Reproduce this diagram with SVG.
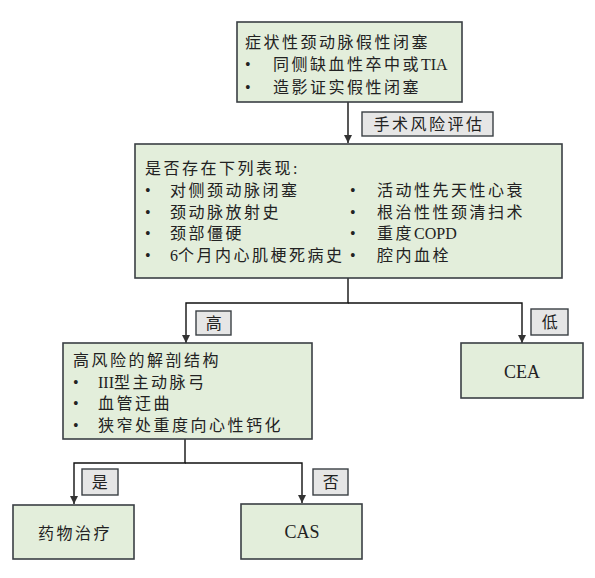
<svg xmlns="http://www.w3.org/2000/svg" width="595" height="578" viewBox="0 0 595 578">
<style>
.node{fill:#e3eedb;stroke:#3a3f44;stroke-width:1.6}
.lab{fill:#e6e6e6;stroke:#3a3f44;stroke-width:1.4}
text{font-family:"Liberation Serif","Noto Sans CJK SC",serif;font-size:16px;fill:#222;letter-spacing:2.5px}
.lat{letter-spacing:0}
.big{font-size:18px;letter-spacing:0}
.c{text-anchor:middle}
.con{fill:none;stroke:#111;stroke-width:1.4}
</style>
<defs>
<marker id="ah" markerUnits="userSpaceOnUse" markerWidth="8" markerHeight="8" refX="8" refY="4" orient="auto">
<path d="M0,0 L8,4 L0,8 z" fill="#333"/>
</marker>
</defs>
<rect width="595" height="578" fill="#fff"/>
<g id="connectors">
<path class="con" d="M348,102 V143" marker-end="url(#ah)"/>
<path class="con" d="M348,278 V303 H186 V343" marker-end="url(#ah)"/>
<path class="con" d="M348,303 H522 V343" marker-end="url(#ah)"/>
<path class="con" d="M185,439 V463 H74 V504" marker-end="url(#ah)"/>
<path class="con" d="M185,463 H302 V503" marker-end="url(#ah)"/>
</g>
<g id="n1">
<rect class="node" x="237" y="22" width="225" height="80"/>
<text x="245" y="48">症状性颈动脉假性闭塞</text>
<text x="245" y="70">•</text><text x="273" y="70">同侧缺血性卒中或<tspan class="lat">TIA</tspan></text>
<text x="245" y="93">•</text><text x="273" y="93">造影证实假性闭塞</text>
</g>
<g id="l1">
<rect class="lab" x="362" y="112" width="131" height="24"/>
<text class="c" x="429" y="130">手术风险评估</text>
</g>
<g id="n2">
<rect class="node" x="135" y="144" width="427" height="134"/>
<text x="145" y="174">是否存在下列表现:</text>
<text x="145" y="196">•</text><text x="170" y="196">对侧颈动脉闭塞</text>
<text x="145" y="218">•</text><text x="170" y="218">颈动脉放射史</text>
<text x="145" y="239">•</text><text x="170" y="239">颈部僵硬</text>
<text x="145" y="261">•</text><text x="170" y="261"><tspan class="lat">6</tspan>个月内心肌梗死病史</text>
<text x="350" y="196">•</text><text x="377" y="196">活动性先天性心衰</text>
<text x="350" y="218">•</text><text x="377" y="218">根治性性颈清扫术</text>
<text x="350" y="239">•</text><text x="377" y="239">重度<tspan class="lat">COPD</tspan></text>
<text x="350" y="261">•</text><text x="377" y="261">腔内血栓</text>
</g>
<g id="l2">
<rect class="lab" x="196" y="311" width="35" height="24"/>
<text class="c" x="215" y="329">高</text>
</g>
<g id="l3">
<rect class="lab" x="531" y="309" width="37" height="26"/>
<text class="c" x="551" y="328">低</text>
</g>
<g id="n3">
<rect class="node" x="63" y="343" width="249" height="96"/>
<text x="73" y="366">高风险的解剖结构</text>
<text x="73" y="388">•</text><text x="98" y="388"><tspan class="lat">III</tspan>型主动脉弓</text>
<text x="73" y="409">•</text><text x="98" y="409">血管迂曲</text>
<text x="73" y="431">•</text><text x="98" y="431">狭窄处重度向心性钙化</text>
</g>
<g id="n4">
<rect class="node" x="461" y="343" width="122" height="55"/>
<text class="c big" x="522" y="378">CEA</text>
</g>
<g id="l4">
<rect class="lab" x="82" y="469" width="36" height="26"/>
<text class="c" x="101" y="488">是</text>
</g>
<g id="l5">
<rect class="lab" x="313" y="469" width="35" height="26"/>
<text class="c" x="332" y="488">否</text>
</g>
<g id="n5">
<rect class="node" x="13" y="505" width="121" height="54"/>
<text class="c" x="75" y="539">药物治疗</text>
</g>
<g id="n6">
<rect class="node" x="241" y="504" width="121" height="55"/>
<text class="c big" x="302" y="538">CAS</text>
</g>
</svg>
